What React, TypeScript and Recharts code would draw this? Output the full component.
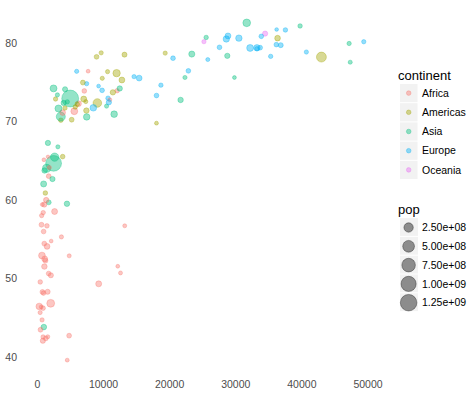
import { ScatterChart, Scatter, XAxis, YAxis } from "recharts";

// gapminder 2007: [country, gdpPercap, lifeExp, pop]
type Row = [string, number, number, number];

const africa: Row[] = [
  ["Algeria", 6223.367, 72.301, 33333216],
  ["Angola", 4797.231, 42.731, 12420476],
  ["Benin", 1441.285, 56.728, 8078314],
  ["Botswana", 12569.85, 50.728, 1639131],
  ["Burkina Faso", 1217.033, 52.295, 14326203],
  ["Burundi", 430.0707, 49.58, 8390505],
  ["Cameroon", 2042.095, 50.43, 17696293],
  ["Central African Republic", 706.0165, 44.741, 4369038],
  ["Chad", 1704.064, 50.651, 10238807],
  ["Comoros", 986.1479, 65.152, 710960],
  ["Congo, Dem. Rep.", 277.5519, 46.462, 64606759],
  ["Congo, Rep.", 3632.558, 55.322, 3800610],
  ["Cote d'Ivoire", 1544.75, 48.328, 18013409],
  ["Djibouti", 2082.482, 54.791, 496374],
  ["Egypt", 5581.181, 71.338, 80264543],
  ["Equatorial Guinea", 12154.09, 51.579, 551201],
  ["Eritrea", 641.3695, 58.04, 4906585],
  ["Ethiopia", 690.8056, 52.947, 76511887],
  ["Gabon", 13206.48, 56.735, 1454867],
  ["Gambia", 752.7497, 59.448, 1688359],
  ["Ghana", 1327.609, 60.022, 22873338],
  ["Guinea", 942.6542, 56.007, 9947814],
  ["Guinea-Bissau", 579.2317, 46.388, 1472041],
  ["Kenya", 1463.249, 54.11, 35610177],
  ["Lesotho", 1569.331, 42.592, 2012649],
  ["Liberia", 414.5073, 45.678, 3193942],
  ["Libya", 12057.5, 73.952, 6036914],
  ["Madagascar", 1044.77, 59.443, 19167654],
  ["Malawi", 759.3499, 48.303, 13327079],
  ["Mali", 1042.582, 54.467, 12031795],
  ["Mauritania", 1803.151, 64.164, 3270065],
  ["Mauritius", 10956.99, 72.801, 1250882],
  ["Morocco", 3820.175, 71.164, 33757175],
  ["Mozambique", 823.6856, 42.082, 19951656],
  ["Namibia", 4811.06, 52.906, 2055080],
  ["Niger", 619.6769, 56.867, 12894865],
  ["Nigeria", 2013.977, 46.859, 135031164],
  ["Reunion", 7670.123, 76.442, 798094],
  ["Rwanda", 863.0885, 46.242, 8860588],
  ["Sao Tome and Principe", 1598.435, 65.528, 199579],
  ["Senegal", 1712.472, 63.062, 12267493],
  ["Sierra Leone", 862.5408, 42.568, 6144562],
  ["Somalia", 926.1411, 48.159, 9118773],
  ["South Africa", 9269.658, 49.339, 43997828],
  ["Sudan", 2602.395, 58.556, 42292929],
  ["Swaziland", 4513.481, 39.613, 1133066],
  ["Tanzania", 1107.482, 52.517, 38139640],
  ["Togo", 882.9699, 58.42, 5701579],
  ["Tunisia", 7092.923, 73.923, 10276158],
  ["Uganda", 1056.38, 51.542, 29170398],
  ["Zambia", 1271.212, 42.384, 11746035],
  ["Zimbabwe", 469.7093, 43.487, 12311143],
];

const americas: Row[] = [
  ["Argentina", 12779.38, 75.32, 40301927],
  ["Bolivia", 3822.137, 65.554, 9119152],
  ["Brazil", 9065.801, 72.39, 190010647],
  ["Canada", 36319.24, 80.653, 33390141],
  ["Chile", 13171.64, 78.553, 16284741],
  ["Colombia", 7006.58, 72.889, 44227550],
  ["Costa Rica", 9645.061, 78.782, 4133884],
  ["Cuba", 8948.103, 78.273, 11416987],
  ["Dominican Republic", 6025.375, 72.235, 9319622],
  ["Ecuador", 6873.262, 74.994, 13755680],
  ["El Salvador", 5728.354, 71.878, 6939688],
  ["Guatemala", 5186.05, 70.259, 12572928],
  ["Haiti", 1201.637, 60.916, 8502814],
  ["Honduras", 3548.331, 70.198, 7483763],
  ["Jamaica", 7320.88, 72.567, 2780132],
  ["Mexico", 11977.57, 76.195, 108700891],
  ["Nicaragua", 2749.321, 72.899, 5675356],
  ["Panama", 9809.186, 75.537, 3242173],
  ["Paraguay", 4172.838, 71.752, 6667147],
  ["Peru", 7408.906, 71.421, 28674757],
  ["Puerto Rico", 19328.71, 78.746, 3942491],
  ["Trinidad and Tobago", 18008.51, 69.819, 1056608],
  ["United States", 42951.65, 78.242, 301139947],
  ["Uruguay", 10611.46, 76.384, 3447496],
  ["Venezuela", 11415.81, 73.747, 26084662],
];

const asia: Row[] = [
  ["Afghanistan", 974.5803, 43.828, 31889923],
  ["Bahrain", 29796.05, 75.635, 708573],
  ["Bangladesh", 1391.254, 64.062, 150448339],
  ["Cambodia", 1713.779, 59.723, 14131858],
  ["China", 4959.115, 72.961, 1318683096],
  ["Hong Kong, China", 39724.98, 82.208, 6980412],
  ["India", 2452.21, 64.698, 1110396331],
  ["Indonesia", 3540.652, 70.65, 223547000],
  ["Iran", 11605.71, 70.964, 69453570],
  ["Iraq", 4471.062, 59.545, 27499638],
  ["Israel", 25523.28, 80.745, 6426679],
  ["Japan", 31656.07, 82.603, 127467972],
  ["Jordan", 4519.461, 72.535, 6053193],
  ["Korea, Dem. Rep.", 1593.065, 67.297, 23301725],
  ["Korea, Rep.", 23348.14, 78.623, 49044790],
  ["Kuwait", 47306.99, 77.588, 2505559],
  ["Lebanon", 10461.06, 71.993, 3921278],
  ["Malaysia", 12451.66, 74.241, 24821286],
  ["Mongolia", 3095.772, 66.803, 2874127],
  ["Myanmar", 944, 62.069, 47761980],
  ["Nepal", 1091.36, 63.785, 28901790],
  ["Oman", 22316.19, 75.64, 3204897],
  ["Pakistan", 2605.948, 65.483, 169270617],
  ["Philippines", 3190.481, 71.688, 91077287],
  ["Saudi Arabia", 21654.83, 72.777, 27601038],
  ["Singapore", 47143.18, 79.972, 4553009],
  ["Sri Lanka", 3970.095, 72.396, 20378239],
  ["Syria", 4184.548, 74.143, 19314747],
  ["Taiwan", 28718.28, 78.4, 23174294],
  ["Thailand", 7458.396, 70.616, 65068149],
  ["Vietnam", 2441.577, 74.249, 85262356],
  ["West Bank and Gaza", 3025.35, 73.422, 4018332],
  ["Yemen, Rep.", 2280.77, 62.698, 22211743],
];

const europe: Row[] = [
  ["Albania", 5937.03, 76.423, 3600523],
  ["Austria", 36126.49, 79.829, 8199783],
  ["Belgium", 33692.61, 79.441, 10392226],
  ["Bosnia and Herzegovina", 7446.299, 74.852, 4552198],
  ["Bulgaria", 10680.79, 73.005, 7322858],
  ["Croatia", 14619.22, 75.748, 4493312],
  ["Czech Republic", 22833.31, 76.486, 10228744],
  ["Denmark", 35278.42, 78.332, 5468120],
  ["Finland", 33207.08, 79.313, 5238460],
  ["France", 30470.02, 80.657, 61083916],
  ["Germany", 32170.37, 79.406, 82400996],
  ["Greece", 27538.41, 79.483, 10706290],
  ["Hungary", 18008.94, 73.338, 9956108],
  ["Iceland", 36180.79, 81.757, 301931],
  ["Ireland", 40676, 78.885, 4109086],
  ["Italy", 28569.72, 80.546, 58147733],
  ["Montenegro", 9253.896, 74.543, 684736],
  ["Netherlands", 36797.93, 79.762, 16570613],
  ["Norway", 49357.19, 80.196, 4627926],
  ["Poland", 15389.92, 75.563, 38518241],
  ["Portugal", 20509.65, 78.098, 10642836],
  ["Romania", 10808.48, 72.476, 22276056],
  ["Serbia", 9786.535, 74.002, 10150265],
  ["Slovak Republic", 18678.31, 74.663, 5447502],
  ["Slovenia", 25768.26, 77.926, 2009245],
  ["Spain", 28821.06, 80.941, 40448191],
  ["Sweden", 33859.75, 80.884, 9031088],
  ["Switzerland", 37506.42, 81.701, 7554661],
  ["Turkey", 8458.276, 71.777, 71158647],
  ["United Kingdom", 33203.26, 79.425, 60776238],
];

const oceania: Row[] = [
  ["Australia", 34435.37, 81.235, 20434176],
  ["New Zealand", 25185.01, 80.204, 4115771],
];

const continents = ["Africa", "Americas", "Asia", "Europe", "Oceania"];
const continentRows = [africa, americas, asia, europe, oceania];
const continentColors = ["#F8766D", "#A3A500", "#00BF7D", "#00B0F6", "#E76BF3"];

const xTicks = [0, 10000, 20000, 30000, 40000, 50000];
const yTicks = [40, 50, 60, 70, 80];
const popBreaks = [2.5e8, 5e8, 7.5e8, 1e9, 1.25e9];
const popLabels = ["2.50e+08", "5.00e+08", "7.50e+08", "1.00e+09", "1.25e+09"];

const FONT = '"Liberation Sans", Arial, Helvetica, sans-serif';
const ALPHA = 0.42;

const points = continentRows
  .flatMap((rows, i) =>
    rows.map(([country, gdpPercap, lifeExp, pop]) => ({
      country,
      continent: continents[i],
      color: continentColors[i],
      gdpPercap,
      lifeExp,
      pop,
    }))
  )
  .sort((a, b) => (a.country < b.country ? -1 : 1));

const allPop = points.map((p) => p.pop);
const popMin = Math.min(...allPop);
const popMax = Math.max(...allPop);

// ggplot-like area scale: size 1..6, then to a pixel diameter
function diameter(pop: number) {
  const size = 1 + 5 * Math.sqrt((pop - popMin) / (popMax - popMin));
  return 0.75 * (size * 2.845 + 0.945) * 1.25;
}

// 5% expansion like ggplot
const gdpVals = points.map((p) => p.gdpPercap);
const lifeVals = points.map((p) => p.lifeExp);
const gMin = Math.min(...gdpVals), gMax = Math.max(...gdpVals);
const lMin = Math.min(...lifeVals), lMax = Math.max(...lifeVals);
const xDomain = [gMin - 0.05 * (gMax - gMin), gMax + 0.05 * (gMax - gMin)];
const yDomain = [lMin - 0.05 * (lMax - lMin), lMax + 0.05 * (lMax - lMin)];

function Dot(props: any) {
  const { cx, cy, payload } = props;
  if (cx == null || cy == null) return null;
  return (
    <circle
      cx={cx}
      cy={cy}
      r={diameter(payload.pop) / 2}
      fill={payload.color}
      fillOpacity={ALPHA}
      stroke={payload.color}
      strokeOpacity={ALPHA}
      strokeWidth={0.8}
    />
  );
}

function Legends() {
  const colorRowTop = 84;
  const colorPitch = 19.2;
  const popCenters = popBreaks.map((_, i) => 227.5 + i * 18.8);
  return (
    <svg width={94} height={395} style={{ position: "absolute", left: 380, top: 0 }}>
      <g fontFamily={FONT}>
        <text x={18} y={75} dy="0.355em" fontSize={13} fill="#000">
          continent
        </text>
        {continents.map((c, i) => {
          const top = colorRowTop + i * colorPitch;
          return (
            <g key={c}>
              <rect x={20} y={top} width={17.5} height={colorPitch - 1} fill="#F2F2F2" />
              <circle
                cx={28.7}
                cy={top + (colorPitch - 1) / 2}
                r={2.3}
                fill={continentColors[i]}
                fillOpacity={ALPHA}
                stroke={continentColors[i]}
                strokeOpacity={ALPHA}
                strokeWidth={0.8}
              />
              <text x={42} y={top + (colorPitch - 1) / 2} dy="0.355em" fontSize={10.5} fill="#000">
                {c}
              </text>
            </g>
          );
        })}
        <text x={18} y={209} dy="0.355em" fontSize={13} fill="#000">
          pop
        </text>
        {popBreaks.map((b, i) => {
          const cy = popCenters[i];
          return (
            <g key={b}>
              <rect x={20} y={cy - 9.4} width={18} height={17.8} fill="#F2F2F2" />
              <circle cx={28.6} cy={cy} r={diameter(b) / 2} fill="#000" fillOpacity={ALPHA} stroke="#000" strokeOpacity={ALPHA} strokeWidth={0.8} />
              <text x={42} y={cy} dy="0.355em" fontSize={10.5} fill="#000">
                {popLabels[i]}
              </text>
            </g>
          );
        })}
      </g>
    </svg>
  );
}

export default function App() {
  return (
    <div style={{ position: "absolute", left: 0, top: 0, width: 474, height: 395, background: "#fff" }}>
      <ScatterChart width={474} height={395} margin={{ top: 6, right: 94, bottom: 0, left: 0 }}>
        <XAxis
          type="number"
          dataKey="gdpPercap"
          domain={xDomain}
          ticks={xTicks}
          axisLine={false}
          tickLine={false}
          tickSize={4}
          tickMargin={0}
          height={18}
          interval={0}
          tick={{ fontSize: 10.5, fill: "#4D4D4D", fontFamily: FONT }}
        />
        <YAxis
          type="number"
          dataKey="lifeExp"
          domain={yDomain}
          ticks={yTicks}
          axisLine={false}
          tickLine={false}
          tickSize={3}
          tickMargin={3}
          width={23}
          interval={0}
          tick={{ fontSize: 10.5, fill: "#4D4D4D", fontFamily: FONT }}
        />
        <Scatter data={points} shape={<Dot />} isAnimationActive={false} />
      </ScatterChart>
      <Legends />
    </div>
  );
}
